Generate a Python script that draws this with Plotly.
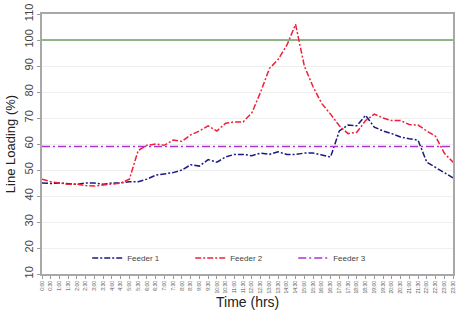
import plotly.graph_objects as go

times = [f"{h}:{m:02d}" for h in range(24) for m in (0, 30)]

feeder1 = [45.0, 44.8, 45.0, 44.8, 44.5, 45.0, 45.0, 44.5, 45.0, 45.0,
           45.5, 45.5, 46.5, 48.0, 48.5, 49.0, 50.0, 52.0, 51.5, 54.0,
           53.0, 55.0, 56.0, 56.0, 55.5, 56.5, 56.0, 57.0, 56.0, 56.0,
           56.5, 56.5, 55.8, 55.0, 65.0, 67.3, 67.0, 71.0, 66.5, 65.0,
           64.0, 62.7, 62.0, 61.5, 53.0, 51.0, 49.0, 47.0]

feeder2 = [46.5, 45.5, 45.0, 44.5, 44.5, 44.0, 43.8, 44.2, 44.5, 45.0,
           46.5, 57.5, 59.5, 60.0, 59.5, 61.5, 61.0, 63.5, 65.0, 67.0,
           65.0, 68.0, 68.5, 68.5, 72.0, 80.0, 89.0, 92.5, 98.0, 106.0,
           90.0, 82.0, 75.5, 71.5, 67.0, 64.0, 64.5, 69.0, 71.5, 70.0,
           69.0, 69.0, 67.5, 67.3, 65.0, 63.0, 56.5, 53.0]

FEEDER3_LEVEL = 59.0
feeder3 = [FEEDER3_LEVEL] * len(times)

LIMIT = 100.0

fig = go.Figure()
fig.add_trace(go.Scatter(x=times, y=[LIMIT] * len(times), mode="lines",
                         line=dict(color="#6E9E63", width=1.5),
                         showlegend=False, hoverinfo="skip"))
fig.add_trace(go.Scatter(x=times, y=feeder1, mode="lines", name="Feeder 1",
                         line=dict(color="#1A1A80", width=1.5, dash="6px,2px,2px,2px")))
fig.add_trace(go.Scatter(x=times, y=feeder2, mode="lines", name="Feeder 2",
                         line=dict(color="#F0203A", width=1.5, dash="6px,2px,2px,2px")))
fig.add_trace(go.Scatter(x=times, y=feeder3, mode="lines", name="Feeder 3",
                         line=dict(color="#B030D8", width=1.5, dash="8px,3px,2px,3px")))

fig.update_layout(
    width=474, height=310,
    margin=dict(l=42, r=21, t=14, b=36),
    paper_bgcolor="white", plot_bgcolor="white",
    font=dict(family="Liberation Sans, Arial, sans-serif", color="#333333"),
    showlegend=True,
    legend=dict(orientation="h", x=0.11, y=0.062, xanchor="left", yanchor="middle",
                font=dict(size=8, color="#444444"), itemwidth=30,
                entrywidth=58, entrywidthmode="pixels",
                bgcolor="rgba(0,0,0,0)", tracegroupgap=0),
    annotations=[dict(text="Time (hrs)", xref="paper", yref="paper",
                      x=0.5, y=(274 - 302) / 260, xanchor="center", yanchor="middle",
                      showarrow=False, font=dict(size=14, color="#222222"))],
)
fig.update_xaxes(
    type="category", range=[0, 47],
    tickmode="array", tickvals=times, ticktext=times,
    tickangle=-90, tickfont=dict(size=5, color="#555555"),
    ticks="outside", ticklen=3, tickcolor="#999999",
    showline=True, linecolor="#A8A8A8", linewidth=2, mirror=True,
    showgrid=False, zeroline=False, automargin=False,
)
fig.update_yaxes(
    range=[10, 110], dtick=10, tick0=10,
    tickangle=-90, tickfont=dict(size=11, color="#444444"),
    ticks="outside", ticklen=3, tickcolor="#999999",
    showline=True, linecolor="#A8A8A8", linewidth=2, mirror=True,
    showgrid=True, gridcolor="#EFEFEF", gridwidth=1, zeroline=False,
    automargin=False,
    title=dict(text="Line Loading (%)", font=dict(size=13, color="#222222"), standoff=4),
)

fig.write_html("out.html")
